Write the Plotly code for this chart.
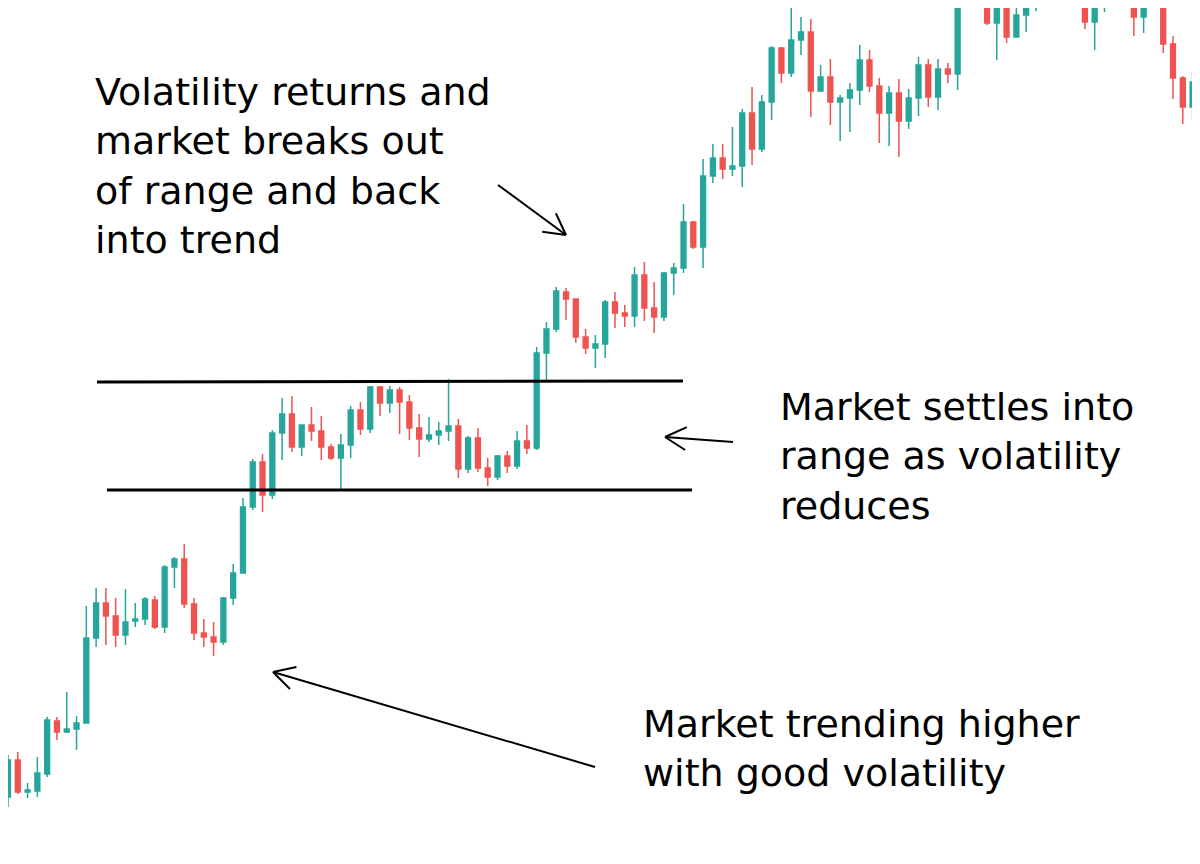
import math
import plotly.graph_objects as go

open_ = [67,104,72,73,90,143,132,135,141,226,261,248,229,243,245,264,237,297,305,260,231,227,222,266,291,357,402,369,431,450,417,439,433,417,406,419,454,435,477,461,474,462,436,425,429,433,438,395,426,396,387,408,398,423,416,511,535,572,565,527,516,520,562,551,548,589,556,547,591,596,642,617,688,706,695,698,751,715,762,816,791,824,832,773,787,762,766,774,804,778,751,771,743,766,799,767,795,790,879,899,874,841,857,827,849,860,861,872,884,876,869,842,862,867,879,874,847,872,874,820,786,757]
high = [109,112,81,107,147,147,172,148,258,276,276,266,275,261,267,268,299,307,320,266,245,242,267,300,366,405,410,434,466,468,439,457,448,420,430,458,462,478,478,478,477,469,450,447,442,485,445,428,436,406,409,413,433,439,517,542,577,576,565,535,529,564,572,559,597,602,582,592,601,660,643,705,720,720,737,755,777,769,818,817,857,847,845,799,805,769,781,819,814,786,778,785,775,807,805,805,801,884,910,909,884,859,869,869,867,869,874,894,894,884,874,867,874,879,889,879,874,904,884,828,788,793]
low = [57,70,66,67,87,124,131,114,141,217,219,217,219,237,239,235,231,276,256,224,217,208,219,259,291,354,352,365,404,412,408,423,404,404,375,406,429,431,448,451,430,424,407,422,419,423,386,391,392,378,384,391,395,410,414,484,532,544,521,510,496,506,536,537,537,543,531,543,569,591,615,596,681,685,688,677,699,712,744,781,787,809,747,772,739,723,732,759,772,721,718,707,735,748,757,754,781,774,861,869,839,804,821,827,832,853,860,867,869,865,835,814,852,861,866,828,831,866,811,765,740,743]
close = [104,72,74,91,144,132,135,141,226,261,248,229,242,245,265,237,297,305,260,231,227,222,266,291,357,402,369,431,450,417,439,433,417,406,419,454,435,477,461,474,462,436,425,429,433,438,395,426,396,387,408,398,423,416,511,535,573,565,527,516,520,562,551,548,589,556,547,591,596,642,617,688,706,695,698,751,715,762,816,791,824,832,773,787,762,766,774,804,778,751,771,743,766,799,767,795,790,874,904,874,841,857,827,849,859,861,869,884,874,866,842,862,869,874,869,847,869,894,820,786,757,782]
idx = list(range(len(close)))

W, H = 1200, 864
OFF = 8  # page offset of the figure
fig = go.Figure(go.Candlestick(
    x=idx, open=open_, high=high, low=low, close=close,
    increasing=dict(line=dict(color="#26a69a", width=1.5), fillcolor="#26a69a"),
    decreasing=dict(line=dict(color="#ef5350", width=1.5), fillcolor="#ef5350"),
    whiskerwidth=0, showlegend=False, hoverinfo="skip"))

sp = 9.79
def px2x(p):
    return (p - 8) / sp

def PX(p):
    return (p - OFF) / W
def PY(p):
    return 1 - (p - OFF) / H

shapes = [
    dict(type="line", xref="x", yref="y", x0=px2x(97), x1=px2x(683), y0=H-382, y1=H-381,
         line=dict(color="black", width=3)),
    dict(type="line", xref="x", yref="y", x0=px2x(107), x1=px2x(692), y0=H-490, y1=H-490,
         line=dict(color="black", width=3)),
    dict(type="rect", xref="paper", yref="paper", x0=PX(30), x1=PX(95), y0=PY(3), y1=1.02,
         fillcolor="#2196f3", line=dict(width=0)),
]

def arrow(tx, ty, hx, hy):
    out = []
    def L(a, b, c, d):
        out.append(dict(type="line", xref="paper", yref="paper", x0=PX(a), y0=PY(b), x1=PX(c), y1=PY(d),
                        line=dict(color="black", width=2)))
    L(tx, ty, hx, hy)
    ang = math.atan2(ty-hy, tx-hx)
    for s in (-0.5, 0.5):
        L(hx, hy, hx + 24*math.cos(ang+s), hy + 24*math.sin(ang+s))
    return out

shapes += arrow(498, 185, 566, 235)
shapes += arrow(733, 442, 665, 437)
shapes += arrow(595, 767, 273, 672)

font = dict(family="DejaVu Sans", size=38, color="black")
def txt(x, y, t):
    return dict(xref="paper", yref="paper", x=PX(x), y=PY(y), xanchor="left", yanchor="top",
                text=t, showarrow=False, align="left", font=font)

annotations = [
    txt(93, 68, "Volatility returns and<br>market breaks out<br>of range and back<br>into trend"),
    txt(778, 383, "Market settles into<br>range as volatility<br>reduces"),
    txt(641, 700, "Market trending higher<br>with good volatility"),
]

fig.update_layout(
    width=W, height=H, margin=dict(l=0, r=0, t=0, b=0),
    paper_bgcolor="white", plot_bgcolor="white",
    xaxis=dict(range=[px2x(OFF), px2x(W + OFF)], visible=False, rangeslider=dict(visible=False)),
    yaxis=dict(range=[H - (H + OFF), H - OFF], visible=False),
    shapes=shapes, annotations=annotations,
)
fig.write_html("out.html")
